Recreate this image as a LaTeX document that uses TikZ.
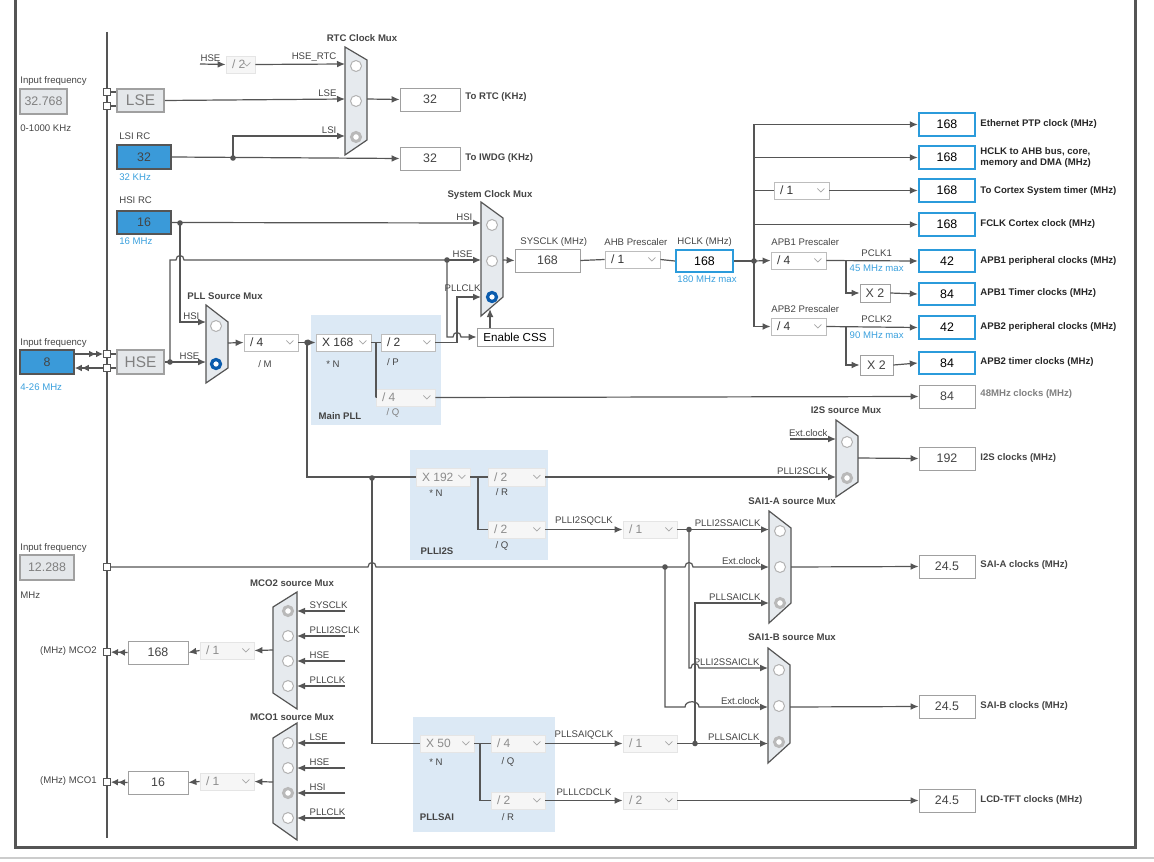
\documentclass[tikz,border=0pt]{standalone}
\usepackage{fontspec}
\setmainfont{Liberation Sans}
\usetikzlibrary{arrows.meta,calc}
\definecolor{trait}{HTML}{555555}
\definecolor{bordgris}{HTML}{A0A0A0}
\definecolor{bleuin}{HTML}{3A9AD9}
\definecolor{bleubord}{HTML}{2B9BDB}
\definecolor{fondpll}{HTML}{DCE9F5}
\definecolor{grisfond}{HTML}{E4E7EA}
\definecolor{muxfond}{HTML}{E6EAEE}
\definecolor{texte}{HTML}{444444}
\definecolor{bleutxt}{HTML}{3AA0DD}
\definecolor{bleusel}{HTML}{0B5CAD}
% boite : nom, x1, y1, x2, y2, style, texte
\newcommand{\boite}[7]{\node[#6,minimum width={(#4-#2)*0.5pt},minimum height={(#5-#3)*0.5pt}] (#1) at ({(#2+#4)/2},{(#3+#5)/2}) {#7};}
% diviseur : style, nom, x1, y1, x2, y2, texte
\newcommand{\diviseur}[7]{\boite{#2}{#3}{#4}{#5}{#6}{#1}{}
  \node[#1txt,anchor=west] at ($(#2.west)+(6,0)$) {#7};
  \draw[chev] ($(#2.east)+(-12,-2)$) -- ++(3.5,3.5) -- ++(3.5,-3.5);}
% mux : nom, x gauche, y haut g., x droite, y haut d., y bas d., y bas g.
\newcommand{\mux}[7]{\draw[muxst] (#2,#3) -- (#4,#5) -- (#4,#6) -- (#2,#7) -- cycle;}
\begin{document}
\begin{tikzpicture}[x=0.5pt,y=-0.5pt,>={Latex[length=4pt,width=3.4pt]}]
	\tikzstyle{fil}=[draw=trait,line width=0.6pt]
	\tikzstyle{fleche}=[fil,->]
	\tikzstyle{dbl}=[fil,-{Latex[length=3.5pt,width=3.4pt]Latex[length=3.5pt,width=3.4pt]}]
	\tikzstyle{lbl}=[inner sep=0,text=texte,font=\fontsize{4.8}{5.5}\selectfont]
	\tikzstyle{titre}=[lbl,font=\fontsize{4.8}{5.5}\selectfont\bfseries]
	\tikzstyle{sortietxt}=[lbl,anchor=west,align=left,font=\fontsize{4.8}{5.5}\selectfont\bfseries,text=black!85]
	\tikzstyle{bleu}=[lbl,text=bleutxt]
	\tikzstyle{entree}=[lbl,pos=1,anchor=south east,xshift=-4pt,yshift=1pt]
	\tikzstyle{entreeD}=[lbl,pos=1,anchor=south west,xshift=6pt,yshift=1pt]
	\tikzstyle{boxbase}=[draw,inner sep=0,font=\fontsize{6.2}{7}\selectfont]
	\tikzstyle{valbox}=[boxbase,draw=bordgris,fill=white,text=texte]
	\tikzstyle{sortie}=[boxbase,draw=bleubord,line width=1.2pt,fill=white,text=black]
	\tikzstyle{bleubox}=[boxbase,draw=trait,line width=0.8pt,fill=bleuin,text=texte]
	\tikzstyle{grisbox}=[boxbase,draw=bordgris,line width=0.8pt,fill=grisfond,text=gray]
	\tikzstyle{grisbig}=[grisbox,font=\fontsize{7.7}{8}\selectfont]
	\tikzstyle{cssbox}=[boxbase,draw=bordgris,fill=white,text=black,font=\fontsize{5.8}{7}\selectfont]
	\tikzstyle{div}=[boxbase,draw=bordgris!70,line width=0.4pt,fill=white]
	\tikzstyle{divtxt}=[lbl,text=black!80,font=\fontsize{6}{7}\selectfont]
	\tikzstyle{divoff}=[boxbase,draw=gray!20,line width=0.4pt,fill=gray!7]
	\tikzstyle{divofftxt}=[lbl,text=gray!90,font=\fontsize{6}{7}\selectfont]
	\tikzstyle{chev}=[draw=gray!70,line width=0.4pt]
	\tikzstyle{muxst}=[draw=trait,fill=muxfond,line width=0.6pt]
	\tikzstyle{rond}=[circle,draw=gray!60,fill=white,inner sep=0,minimum size=5.5pt,line width=0.5pt]
	\tikzstyle{rondg}=[rond,draw=gray!55,line width=1.5pt,minimum size=4.5pt]
	\tikzstyle{rondb}=[rond,draw=bleusel,line width=1.6pt,minimum size=4.5pt]
	\tikzstyle{carre}=[draw=trait,fill=white,inner sep=0,minimum size=3.5pt,line width=0.5pt]
	\useasboundingbox (0,0) rectangle (1154,861);
	% cadre
	\draw[trait,line width=1.5pt] (15,0) -- (15,847) -- (1135,847) -- (1135,0);
	\draw[gray!40,line width=1pt] (0,858) -- (1154,858);
	\draw[fil] (107,32) -- (107,838);
	% fonds des PLL
	\fill[fondpll] (311,315) rectangle (441,425);
	\fill[fondpll] (410,450) rectangle (548,560);
	\fill[fondpll] (413,717) rectangle (555,832);
	% entrees
	\node[lbl,anchor=west] at (20,81) {Input frequency};
	\boite{fLSE}{20}{89}{67}{114}{grisbox}{32.768}
	\node[lbl,anchor=west] at (20,128) {0-1000 KHz};
	\boite{LSE}{117}{89}{164}{112}{grisbig}{LSE}
	\node[carre] (pLa) at (107,92) {};
	\node[carre] (pLb) at (107,106) {};
	\draw[fil] (pLa) -- (pLa -| LSE.west);
	\draw[fil] (pLb) -- (pLb -| LSE.west);
	\node[lbl,anchor=west] at (119,136) {LSI RC};
	\boite{LSI}{117}{145}{171}{169}{bleubox}{32}
	\node[bleu,anchor=west] at (119,177) {32 KHz};
	\node[lbl,anchor=west] at (119,200) {HSI RC};
	\boite{HSI}{117}{211}{171}{234}{bleubox}{16}
	\node[bleu,anchor=west] at (119,241) {16 MHz};
	\node[lbl,anchor=west] at (20,343) {Input frequency};
	\boite{fHSE}{20}{350}{74}{374}{bleubox}{8}
	\node[bleu,anchor=west] at (20,387) {4-26 MHz};
	\boite{HSE}{117}{350}{164}{374}{grisbig}{HSE}
	\node[carre] (pHa) at (107,354) {};
	\node[carre] (pHb) at (107,368) {};
	\draw[dbl] (fHSE.east |- pHa) -- (pHa);
	\draw[dbl] (pHb) -- (fHSE.east |- pHb);
	\draw[fil] (pHa) -- (pHa -| HSE.west);
	\draw[fil] (pHb) -- (pHb -| HSE.west);
	\node[lbl,anchor=west] at (20,548) {Input frequency};
	\boite{fExt}{20}{555}{74}{580}{grisbox}{12.288}
	\node[lbl,anchor=west] at (20,595) {MHz};
	\node[carre] (pExt) at (107,567) {};
	% RTC
	\node[titre] at (362,38) {RTC Clock Mux};
	\mux{rtc}{345}{47}{367}{60}{140}{155}
	\node[rond] (rtc1) at (356,66) {};
	\node[rond] (rtc2) at (356,101) {};
	\node[rondg] (rtc3) at (356,137) {};
	\coordinate (rtcA) at (345,64);
	\coordinate (rtcB) at (345,99);
	\coordinate (rtcC) at (345,136);
	\coordinate (rtcO) at (367,99);
	\coordinate (hseR) at (200,64);
	\diviseur{divoff}{dRTC}{226}{56}{255}{73}{/ 2}
	\draw[fleche] (hseR) node[lbl,anchor=south west,yshift=1pt] {HSE} -- (dRTC.west);
	\draw[fleche] (dRTC.east) -- (rtcA) node[entree] {HSE\_RTC};
	\draw[fleche] (LSE.east) -- (rtcB) node[entree] {LSE};
	\boite{RTC}{400}{88}{460}{111}{valbox}{32}
	\draw[fleche] (rtcO) -- (RTC.west);
	\node[sortietxt,text=texte] at (465,97) {To RTC (KHz)};
	\boite{IWDG}{400}{147}{460}{170}{valbox}{32}
	\coordinate (jLSI) at (233,158);
	\draw[fleche] (LSI.east) -- (IWDG.west);
	\draw[fleche] (jLSI) |- (rtcC) node[entree] {LSI};
	\fill[trait] (jLSI) circle (1.4pt);
	\node[sortietxt,text=texte] at (465,158) {To IWDG (KHz)};
	% PLL source mux
	\node[titre,anchor=west] at (187,296) {PLL Source Mux};
	\mux{pll}{206}{305}{228}{322}{368}{383}
	\node[rond] (pll1) at (216,326) {};
	\node[rondb] (pll2) at (216,364) {};
	\coordinate (pllA) at (206,322);
	\coordinate (pllB) at (206,362);
	\coordinate (pllO) at (228,343);
	\coordinate (jHSI) at (180,223);
	\coordinate (jHSE) at (170,362);
	\draw[fleche] (jHSI) |- (pllA) node[entree,xshift=1pt] {HSI};
	\draw[fleche] (HSE.east) -- (pllB) node[entree,xshift=1pt] {HSE};
	% System clock mux
	\node[titre] at (490,195) {System Clock Mux};
	\mux{sys}{481}{202}{503}{218}{297}{316}
	\node[rond] (sys1) at (492,225) {};
	\node[rond] (sys2) at (492,261) {};
	\node[rondb] (sys3) at (492,297) {};
	\coordinate (sysA) at (481,223);
	\coordinate (sysB) at (481,260);
	\coordinate (sysC) at (481,297);
	\coordinate (sysO) at (503,260);
	\coordinate (sysBas) at (490,309);
	\coordinate (jHSEs) at (447,260);
	\draw[fleche] (HSI.east) -- (sysA) node[entree] {HSI};
	\draw[fil] (jHSE) -- (170,260) -- (176,260) .. controls (176,254) and (184,254) .. (184,260) -- (jHSEs);
	\draw[fleche] (jHSEs) -- (sysB) node[entree] {HSE};
	\boite{CSS}{477}{328}{553}{346}{cssbox}{Enable CSS}
	\draw[fleche] (jHSEs) -- (447,337) -- (453,337) .. controls (453,331) and (461,331) .. (461,337) -- (CSS.west);
	\draw[fleche] (CSS.north -| sysBas) -- (sysBas);
	\foreach \j in {jHSI,jHSE,jHSEs} \fill[trait] (\j) circle (1.4pt);
	% Main PLL
	\diviseur{div}{dM}{244}{334}{298}{351}{/ 4}
	\diviseur{div}{dN}{316}{334}{371}{351}{X 168}
	\diviseur{div}{dP}{381}{334}{435}{351}{/ 2}
	\diviseur{divoff}{dQ}{376}{389}{435}{406}{/ 4}
	\coordinate (jM) at (307,342.5);
	\coordinate (jN) at (376,342.5);
	\draw[fleche] (pllO) -- (dM.west);
	\draw[fil] (dM.east) -- (jM);
	\draw[fleche] (jM) -- (dN.west);
	\draw[fil] (dN.east) -- (dP.west);
	\draw[fil] (jN) |- (dQ.west);
	\fill[trait] (jM) circle (1.4pt);
	\draw[fleche] (dP.east) -- (457,342.5) |- (sysC) node[entree,xshift=4pt,yshift=1.5pt] {PLLCLK};
	\node[lbl] at (265,364) {/ M};
	\node[lbl] at (333,364) {* N};
	\node[lbl] at (393,362) {/ P};
	\node[lbl,text=gray] at (393,413) {/ Q};
	\node[titre] at (340,416) {Main PLL};
	% AHB / APB
	\boite{SYS}{515}{249}{580}{272}{valbox}{168}
	\node[lbl,anchor=west] at (520,242) {SYSCLK (MHz)};
	\draw[fleche] (sysO) -- (SYS.west);
	\diviseur{div}{dAHB}{605}{251}{660}{268}{/ 1}
	\node[lbl,anchor=west] at (604,242) {AHB Prescaler};
	\boite{HCLK}{676}{250}{733}{272}{sortie}{168}
	\node[lbl,anchor=west] at (677,242) {HCLK (MHz)};
	\node[bleu,anchor=west] at (677,279) {180 MHz max};
	\draw[fil] (SYS.east) -- (dAHB.west);
	\draw[fil] (dAHB.east) -- (HCLK.west);
	\coordinate (jH) at (754,261);
	\draw[fil] (HCLK.east) -- (jH);
	\fill[trait] (jH) circle (1.4pt);
	\boite{oEth}{919}{113}{975}{136}{sortie}{168}
	\boite{oAHB}{919}{146}{975}{169}{sortie}{168}
	\boite{oCx}{919}{179}{975}{202}{sortie}{168}
	\boite{oF}{919}{213}{975}{236}{sortie}{168}
	\boite{oP1}{919}{250}{975}{272}{sortie}{42}
	\boite{oT1}{919}{283}{975}{305}{sortie}{84}
	\boite{oP2}{919}{316}{975}{339}{sortie}{42}
	\boite{oT2}{919}{352}{975}{374}{sortie}{84}
	\draw[fleche] (jH) |- (oEth.west);
	\draw[fleche] (jH) |- (oAHB.west);
	\diviseur{div}{dCx}{774}{182}{829}{199}{/ 1}
	\draw[fil] (jH) |- (dCx.west);
	\draw[fleche] (dCx.east) -- (oCx.west);
	\draw[fleche] (jH) |- (oF.west);
	\diviseur{div}{dA1}{771}{252}{826}{269}{/ 4}
	\diviseur{div}{dA2}{771}{318}{826}{335}{/ 4}
	\node[lbl,anchor=west] at (771,242) {APB1 Prescaler};
	\node[lbl,anchor=west] at (771,309) {APB2 Prescaler};
	\draw[fleche] (jH) -- (dA1.west);
	\draw[fleche] (jH) |- (dA2.west);
	\draw[fleche] (dA1.east) -- (oP1.west) node[lbl,pos=0.55,above=2pt] {PCLK1} node[bleu,pos=0.55,below=2pt] {45 MHz max};
	\draw[fleche] (dA2.east) -- (oP2.west) node[lbl,pos=0.55,above=2pt] {PCLK2} node[bleu,pos=0.55,below=2pt] {90 MHz max};
	\boite{x1}{860}{284}{890}{302}{valbox}{X 2}
	\boite{x2}{860}{355}{893}{375}{valbox}{X 2}
	\draw[fleche] (846,261) |- (x1.west);
	\draw[fleche] (846,327) |- (x2.west);
	\draw[fleche] (x1.east) -- (oT1.west);
	\draw[fleche] (x2.east) -- (oT2.west);
	\node[sortietxt] at (980,124) {Ethernet PTP clock (MHz)};
	\node[sortietxt] at (980,158) {HCLK to AHB bus, core,\\memory and DMA (MHz)};
	\node[sortietxt] at (980,191) {To Cortex System timer (MHz)};
	\node[sortietxt] at (980,224) {FCLK Cortex clock (MHz)};
	\node[sortietxt] at (980,261) {APB1 peripheral clocks (MHz)};
	\node[sortietxt] at (980,293) {APB1 Timer clocks (MHz)};
	\node[sortietxt] at (980,327) {APB2 peripheral clocks (MHz)};
	\node[sortietxt] at (980,362) {APB2 timer clocks (MHz)};
	\boite{o48}{919}{385}{975}{408}{valbox}{84}
	\draw[fleche] (dQ.east) -- (o48.west);
	\node[sortietxt,text=gray] at (980,394) {48MHz clocks (MHz)};
	% PLLI2S
	\coordinate (jI) at (372,478);
	\diviseur{divoff}{dN2}{416}{468}{470}{486}{X 192}
	\diviseur{divoff}{dR2}{488}{468}{545}{486}{/ 2}
	\diviseur{divoff}{dQ2}{488}{521}{545}{538}{/ 2}
	\draw[fil] (jM) -- (307,477) -- (dN2.west);
	\fill[trait] (jI) circle (1.4pt);
	\draw[fil] (dN2.east) -- (dR2.west);
	\draw[fil] (478,477) |- (dQ2.west);
	\node[lbl] at (436,493) {* N};
	\node[lbl] at (502,492) {/ R};
	\node[lbl] at (502,546) {/ Q};
	\node[titre] at (437,551) {PLLI2S};
	% I2S mux
	\node[titre] at (846,410) {I2S source Mux};
	\mux{i2s}{836}{420}{858}{436}{482}{497}
	\node[rond] (i2s1) at (847,442) {};
	\node[rondg] (i2s2) at (847,478) {};
	\coordinate (i2sA) at (836,439);
	\coordinate (i2sB) at (836,477);
	\coordinate (i2sO) at (858,458);
	\coordinate (ext1) at (790,439);
	\draw[fleche] (ext1) -- (i2sA) node[entree] {Ext.clock};
	\draw[fleche] (dR2.east) -- (i2sB) node[entree] {PLLI2SCLK};
	\boite{oI2S}{919}{447}{975}{470}{valbox}{192}
	\draw[fleche] (i2sO) -- (oI2S.west);
	\node[sortietxt,text=texte] at (980,458) {I2S clocks (MHz)};
	% SAI muxes
	\node[titre] at (792,501) {SAI1-A source Mux};
	\mux{saA}{769}{511}{791}{528}{603}{623}
	\node[rond] (saA1) at (780,531) {};
	\node[rond] (saA2) at (780,567) {};
	\node[rondg] (saA3) at (780,603) {};
	\coordinate (inA1) at (769,529.5);
	\coordinate (inA2) at (769,567);
	\coordinate (inA3) at (769,603);
	\coordinate (saAO) at (791,567);
	\node[titre] at (792,637) {SAI1-B source Mux};
	\mux{saB}{768}{648}{790}{665}{743}{763}
	\node[rond] (saB1) at (779,670) {};
	\node[rond] (saB2) at (779,706) {};
	\node[rondg] (saB3) at (779,742) {};
	\coordinate (inB1) at (768,668);
	\coordinate (inB2) at (768,707);
	\coordinate (inB3) at (768,743.5);
	\coordinate (saBO) at (790,707);
	\diviseur{divoff}{dS1}{623}{521}{677}{538}{/ 1}
	\draw[fleche] (dQ2.east) -- (dS1.west) node[lbl,midway,above=2pt] {PLLI2SQCLK};
	\coordinate (jS1) at (689,529.5);
	\draw[fil] (dS1.east) -- (jS1);
	\draw[fleche] (jS1) -- (inA1) node[entree] {PLLI2SSAICLK};
	\draw[fleche] (jS1) -- (689,668) -- (691,668) .. controls (691,662) and (699,662) .. (699,668) -- (inB1) node[entree] {PLLI2SSAICLK};
	\coordinate (jE) at (665,567);
	\draw[fil] (pExt) -- (368,567) .. controls (368,561) and (376,561) .. (376,567) -- (jE);
	\draw[fleche] (jE) -- (685,567) .. controls (685,561) and (693,561) .. (693,567) -- (inA2) node[entree] {Ext.clock};
	\draw[fleche] (jE) -- (665,707) -- (685,707) .. controls (685,700) and (699,700) .. (699,707) -- (inB2) node[entree] {Ext.clock};
	\boite{oSA}{919}{555}{975}{578}{valbox}{24.5}
	\boite{oSB}{919}{695}{975}{718}{valbox}{24.5}
	\draw[fleche] (saAO) -- (oSA.west);
	\draw[fleche] (saBO) -- (oSB.west);
	\node[sortietxt,text=texte] at (980,565) {SAI-A clocks (MHz)};
	\node[sortietxt,text=texte] at (980,706) {SAI-B clocks (MHz)};
	% PLLSAI
	\diviseur{divoff}{dN3}{420}{735}{474}{752}{X 50}
	\diviseur{divoff}{dQ3}{491}{735}{545}{752}{/ 4}
	\diviseur{divoff}{dR3}{491}{792}{545}{809}{/ 2}
	\draw[fil] (jI) |- (dN3.west);
	\draw[fil] (dN3.east) -- (dQ3.west);
	\draw[fil] (480,743.5) |- (dR3.west);
	\node[lbl] at (436,762) {* N};
	\node[lbl] at (508,762) {/ Q};
	\node[lbl] at (508,817) {/ R};
	\node[titre] at (437,817) {PLLSAI};
	\diviseur{divoff}{dS2}{623}{735}{677}{752}{/ 1}
	\draw[fleche] (dQ3.east) -- (dS2.west) node[lbl,midway,above=2pt] {PLLSAIQCLK};
	\coordinate (jS2) at (695,743.5);
	\draw[fil] (dS2.east) -- (jS2);
	\draw[fleche] (jS2) -- (inB3) node[entree] {PLLSAICLK};
	\draw[fleche] (jS2) |- (inA3) node[entree] {PLLSAICLK};
	\diviseur{divoff}{dL}{623}{792}{677}{809}{/ 2}
	\draw[fleche] (dR3.east) -- (dL.west) node[lbl,midway,above=2pt] {PLLLCDCLK};
	\boite{oL}{919}{789}{975}{812}{valbox}{24.5}
	\draw[fleche] (dL.east) -- (oL.west);
	\node[sortietxt,text=texte] at (980,800) {LCD-TFT clocks (MHz)};
	\foreach \j in {jS1,jS2,jE} \fill[trait] (\j) circle (1.4pt);
	% MCO2
	\node[titre] at (292,583) {MCO2 source Mux};
	\mux{mc2}{273}{607}{297}{592}{709}{693}
	\foreach \y/\s/\t [count=\i] in {611/rondg/SYSCLK,636/rond/PLLI2SCLK,661/rond/HSE,686/rond/PLLCLK} {
		\node[\s] (c2\i) at (288,\y) {};
		\coordinate (s2\i) at (345,\y);
		\draw[fleche] (s2\i) -- (297,\y) node[entreeD] {\t};
	}
	\coordinate (mc2O) at (273,650);
	\diviseur{divoff}{d2}{200}{642}{254}{659}{/ 1}
	\boite{o2}{128}{641}{188}{664}{valbox}{168}
	\node[carre] (pM2) at (107,652) {};
	\draw[fleche] (mc2O) -- (d2.east);
	\draw[fleche] (d2.west) -- (o2.east);
	\draw[dbl] (o2.west) -- (pM2);
	\node[lbl,anchor=east] at (97,651) {(MHz) MCO2};
	% MCO1
	\node[titre] at (292,717) {MCO1 source Mux};
	\mux{mc1}{273}{738}{297}{723}{840}{823}
	\foreach \y/\s/\t [count=\i] in {743/rond/LSE,768/rond/HSE,793/rondg/HSI,818/rond/PLLCLK} {
		\node[\s] (c1\i) at (288,\y) {};
		\coordinate (s1\i) at (345,\y);
		\draw[fleche] (s1\i) -- (297,\y) node[entreeD] {\t};
	}
	\coordinate (mc1O) at (273,782);
	\diviseur{divoff}{d1}{200}{773}{254}{790}{/ 1}
	\boite{o1}{128}{771}{188}{794}{valbox}{16}
	\node[carre] (pM1) at (107,782) {};
	\draw[fleche] (mc1O) -- (d1.east);
	\draw[fleche] (d1.west) -- (o1.east);
	\draw[dbl] (o1.west) -- (pM1);
	\node[lbl,anchor=east] at (97,781) {(MHz) MCO1};
\end{tikzpicture}
\end{document}
